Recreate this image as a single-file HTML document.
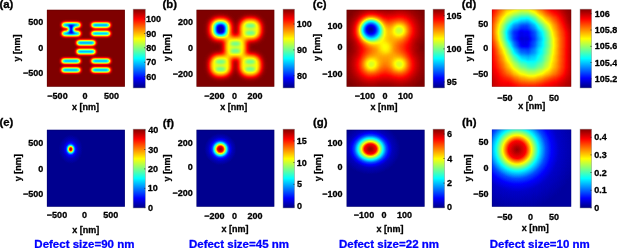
<!DOCTYPE html>
<html><head><meta charset="utf-8"><title>Defect maps</title>
<style>html,body{margin:0;padding:0;background:#fff;overflow:hidden}svg{display:block}</style>
</head><body>
<svg xmlns="http://www.w3.org/2000/svg" width="617" height="248" viewBox="0 0 617 248" font-family='"Liberation Sans", Arial, Helvetica, sans-serif' font-weight="bold">
<defs><linearGradient id="jetgrad" x1="0" y1="1" x2="0" y2="0"><stop offset="0" stop-color="#000080"/><stop offset="0.125" stop-color="#0000ff"/><stop offset="0.375" stop-color="#00ffff"/><stop offset="0.625" stop-color="#ffff00"/><stop offset="0.875" stop-color="#ff0000"/><stop offset="1" stop-color="#800000"/></linearGradient><filter id="fa0" filterUnits="userSpaceOnUse" x="31.9" y="-5.15" width="108.0" height="106.9" color-interpolation-filters="sRGB"><feGaussianBlur stdDeviation="1.45"/><feComponentTransfer>
<feFuncR type="table" tableValues="0 0 0 0 .5 1 1 1 .5"/>
<feFuncG type="table" tableValues="0 0 .5 1 1 1 .5 0 0"/>
<feFuncB type="table" tableValues=".5 1 1 1 .5 0 0 0 0"/>
</feComponentTransfer></filter><clipPath id="ca0"><rect x="46.9" y="9.85" width="78.00" height="76.90"/></clipPath><filter id="hb" x="-50%" y="-50%" width="200%" height="200%" color-interpolation-filters="sRGB"><feGaussianBlur stdDeviation="2.6"/></filter><filter id="fb0" filterUnits="userSpaceOnUse" x="181.5" y="-5.15" width="107.80000000000001" height="106.9" color-interpolation-filters="sRGB"><feGaussianBlur stdDeviation="1.5"/><feComponentTransfer>
<feFuncR type="table" tableValues="0 0 0 0 .5 1 1 1 .5"/>
<feFuncG type="table" tableValues="0 0 .5 1 1 1 .5 0 0"/>
<feFuncB type="table" tableValues=".5 1 1 1 .5 0 0 0 0"/>
</feComponentTransfer></filter><clipPath id="cb0"><rect x="196.5" y="9.85" width="77.80" height="76.90"/></clipPath><radialGradient id="ab6" gradientUnits="userSpaceOnUse" cx="399.7" cy="30.2" r="28" gradientTransform="translate(399.7 30.2) scale(1 1.0) translate(-399.7 -30.2)"><stop offset="0.0000" stop-color="#000" stop-opacity="0.430"/><stop offset="0.0714" stop-color="#000" stop-opacity="0.417"/><stop offset="0.1429" stop-color="#000" stop-opacity="0.378"/><stop offset="0.2143" stop-color="#000" stop-opacity="0.318"/><stop offset="0.3214" stop-color="#000" stop-opacity="0.224"/><stop offset="0.4286" stop-color="#000" stop-opacity="0.155"/><stop offset="0.5714" stop-color="#000" stop-opacity="0.086"/><stop offset="0.7500" stop-color="#000" stop-opacity="0.034"/><stop offset="1.0000" stop-color="#000" stop-opacity="0.000"/></radialGradient><radialGradient id="ab7" gradientUnits="userSpaceOnUse" cx="370.9" cy="64.6" r="28" gradientTransform="translate(370.9 64.6) scale(1 1.0) translate(-370.9 -64.6)"><stop offset="0.0000" stop-color="#000" stop-opacity="0.410"/><stop offset="0.0714" stop-color="#000" stop-opacity="0.398"/><stop offset="0.1429" stop-color="#000" stop-opacity="0.361"/><stop offset="0.2143" stop-color="#000" stop-opacity="0.303"/><stop offset="0.3214" stop-color="#000" stop-opacity="0.213"/><stop offset="0.4286" stop-color="#000" stop-opacity="0.148"/><stop offset="0.5714" stop-color="#000" stop-opacity="0.082"/><stop offset="0.7500" stop-color="#000" stop-opacity="0.033"/><stop offset="1.0000" stop-color="#000" stop-opacity="0.000"/></radialGradient><radialGradient id="ab8" gradientUnits="userSpaceOnUse" cx="399.7" cy="64.6" r="28" gradientTransform="translate(399.7 64.6) scale(1 1.0) translate(-399.7 -64.6)"><stop offset="0.0000" stop-color="#000" stop-opacity="0.410"/><stop offset="0.0714" stop-color="#000" stop-opacity="0.398"/><stop offset="0.1429" stop-color="#000" stop-opacity="0.361"/><stop offset="0.2143" stop-color="#000" stop-opacity="0.303"/><stop offset="0.3214" stop-color="#000" stop-opacity="0.213"/><stop offset="0.4286" stop-color="#000" stop-opacity="0.148"/><stop offset="0.5714" stop-color="#000" stop-opacity="0.082"/><stop offset="0.7500" stop-color="#000" stop-opacity="0.033"/><stop offset="1.0000" stop-color="#000" stop-opacity="0.000"/></radialGradient><radialGradient id="ab9" gradientUnits="userSpaceOnUse" cx="385.4" cy="47.8" r="28" gradientTransform="translate(385.4 47.8) scale(1 1.0) translate(-385.4 -47.8)"><stop offset="0.0000" stop-color="#000" stop-opacity="0.300"/><stop offset="0.0714" stop-color="#000" stop-opacity="0.291"/><stop offset="0.1429" stop-color="#000" stop-opacity="0.264"/><stop offset="0.2143" stop-color="#000" stop-opacity="0.222"/><stop offset="0.3214" stop-color="#000" stop-opacity="0.156"/><stop offset="0.4286" stop-color="#000" stop-opacity="0.108"/><stop offset="0.5714" stop-color="#000" stop-opacity="0.060"/><stop offset="0.7500" stop-color="#000" stop-opacity="0.024"/><stop offset="1.0000" stop-color="#000" stop-opacity="0.000"/></radialGradient><radialGradient id="ab10" gradientUnits="userSpaceOnUse" cx="372.4" cy="31.6" r="28" fx="370.5" fy="29.2" gradientTransform="translate(372.4 31.6) scale(1 1.0) translate(-372.4 -31.6)"><stop offset="0.0000" stop-color="#000" stop-opacity="1.000"/><stop offset="0.1000" stop-color="#000" stop-opacity="0.940"/><stop offset="0.1643" stop-color="#000" stop-opacity="0.880"/><stop offset="0.2179" stop-color="#000" stop-opacity="0.800"/><stop offset="0.2607" stop-color="#000" stop-opacity="0.700"/><stop offset="0.3107" stop-color="#000" stop-opacity="0.620"/><stop offset="0.3464" stop-color="#000" stop-opacity="0.550"/><stop offset="0.3821" stop-color="#000" stop-opacity="0.450"/><stop offset="0.4250" stop-color="#000" stop-opacity="0.355"/><stop offset="0.4893" stop-color="#000" stop-opacity="0.240"/><stop offset="0.5893" stop-color="#000" stop-opacity="0.130"/><stop offset="0.7143" stop-color="#000" stop-opacity="0.055"/><stop offset="0.8571" stop-color="#000" stop-opacity="0.020"/><stop offset="1.0000" stop-color="#000" stop-opacity="0.000"/></radialGradient><filter id="fc0" filterUnits="userSpaceOnUse" x="331.6" y="-5.15" width="108.0" height="106.9" color-interpolation-filters="sRGB"><feGaussianBlur stdDeviation="0.8"/><feComponentTransfer>
<feFuncR type="table" tableValues="0 0 0 0 .5 1 1 1 .5"/>
<feFuncG type="table" tableValues="0 0 .5 1 1 1 .5 0 0"/>
<feFuncB type="table" tableValues=".5 1 1 1 .5 0 0 0 0"/>
</feComponentTransfer></filter><clipPath id="cc0"><rect x="346.6" y="9.85" width="78.00" height="76.90"/></clipPath><filter id="fd0" filterUnits="userSpaceOnUse" x="476.9" y="-5.4" width="109.30000000000007" height="107.15" color-interpolation-filters="sRGB"><feGaussianBlur stdDeviation="2.2"/><feComponentTransfer>
<feFuncR type="table" tableValues="0 0 0 0 .5 1 1 1 .5"/>
<feFuncG type="table" tableValues="0 0 .5 1 1 1 .5 0 0"/>
<feFuncB type="table" tableValues=".5 1 1 1 .5 0 0 0 0"/>
</feComponentTransfer></filter><clipPath id="cd0"><rect x="491.9" y="9.6" width="79.30" height="77.15"/></clipPath><radialGradient id="rg15" gradientUnits="userSpaceOnUse" cx="70.7" cy="149.2" r="12" gradientTransform="translate(70.7 149.2) scale(1 1.2167) translate(-70.7 -149.2)"><stop offset="0.0000" stop-color="#f5f5f5"/><stop offset="0.0417" stop-color="#ededed"/><stop offset="0.0917" stop-color="#dfdfdf"/><stop offset="0.1833" stop-color="#9f9f9f"/><stop offset="0.2625" stop-color="#606060"/><stop offset="0.3500" stop-color="#333333"/><stop offset="0.4333" stop-color="#202020"/><stop offset="0.6250" stop-color="#0f0f0f"/><stop offset="1.0000" stop-color="#040404"/></radialGradient><filter id="fa120" filterUnits="userSpaceOnUse" x="31.9" y="114.85" width="108.0" height="106.9" color-interpolation-filters="sRGB"><feComponentTransfer>
<feFuncR type="table" tableValues="0 0 0 0 .5 1 1 1 .5"/>
<feFuncG type="table" tableValues="0 0 .5 1 1 1 .5 0 0"/>
<feFuncB type="table" tableValues=".5 1 1 1 .5 0 0 0 0"/>
</feComponentTransfer></filter><clipPath id="ca120"><rect x="46.9" y="129.85" width="78.00" height="76.90"/></clipPath><radialGradient id="rg18" gradientUnits="userSpaceOnUse" cx="220.4" cy="149.1" r="16" gradientTransform="translate(220.4 149.1) scale(1 1.0000) translate(-220.4 -149.1)"><stop offset="0.0000" stop-color="#fafafa"/><stop offset="0.0813" stop-color="#f2f2f2"/><stop offset="0.1812" stop-color="#dfdfdf"/><stop offset="0.2812" stop-color="#9f9f9f"/><stop offset="0.4000" stop-color="#606060"/><stop offset="0.5000" stop-color="#333333"/><stop offset="0.5938" stop-color="#202020"/><stop offset="0.7500" stop-color="#0f0f0f"/><stop offset="1.0000" stop-color="#040404"/></radialGradient><filter id="fb120" filterUnits="userSpaceOnUse" x="181.5" y="114.85" width="107.80000000000001" height="106.9" color-interpolation-filters="sRGB"><feComponentTransfer>
<feFuncR type="table" tableValues="0 0 0 0 .5 1 1 1 .5"/>
<feFuncG type="table" tableValues="0 0 .5 1 1 1 .5 0 0"/>
<feFuncB type="table" tableValues=".5 1 1 1 .5 0 0 0 0"/>
</feComponentTransfer></filter><clipPath id="cb120"><rect x="196.5" y="129.85" width="77.80" height="76.90"/></clipPath><radialGradient id="rg21" gradientUnits="userSpaceOnUse" cx="370.4" cy="149.0" r="30" gradientTransform="translate(370.4 149.0) scale(1 0.8500) translate(-370.4 -149.0)"><stop offset="0.0000" stop-color="#fafafa"/><stop offset="0.0833" stop-color="#f2f2f2"/><stop offset="0.2000" stop-color="#dfdfdf"/><stop offset="0.2933" stop-color="#9f9f9f"/><stop offset="0.4200" stop-color="#606060"/><stop offset="0.5333" stop-color="#333333"/><stop offset="0.6200" stop-color="#202020"/><stop offset="0.7333" stop-color="#0f0f0f"/><stop offset="1.0000" stop-color="#040404"/></radialGradient><filter id="fc120" filterUnits="userSpaceOnUse" x="331.6" y="114.85" width="108.0" height="106.9" color-interpolation-filters="sRGB"><feComponentTransfer>
<feFuncR type="table" tableValues="0 0 0 0 .5 1 1 1 .5"/>
<feFuncG type="table" tableValues="0 0 .5 1 1 1 .5 0 0"/>
<feFuncB type="table" tableValues=".5 1 1 1 .5 0 0 0 0"/>
</feComponentTransfer></filter><clipPath id="cc120"><rect x="346.6" y="129.85" width="78.00" height="76.90"/></clipPath><radialGradient id="rg24" gradientUnits="userSpaceOnUse" cx="517.1" cy="149.7" r="60" gradientTransform="translate(517.1 149.7) scale(1 1.0000) translate(-517.1 -149.7)"><stop offset="0.0000" stop-color="#fafafa"/><stop offset="0.0500" stop-color="#f2f2f2"/><stop offset="0.1467" stop-color="#dfdfdf"/><stop offset="0.2417" stop-color="#9f9f9f"/><stop offset="0.3550" stop-color="#606060"/><stop offset="0.4800" stop-color="#333333"/><stop offset="0.5750" stop-color="#202020"/><stop offset="0.7000" stop-color="#121212"/><stop offset="1.0000" stop-color="#080808"/></radialGradient><filter id="fd120" filterUnits="userSpaceOnUse" x="476.9" y="114.6" width="109.30000000000007" height="107.15" color-interpolation-filters="sRGB"><feComponentTransfer>
<feFuncR type="table" tableValues="0 0 0 0 .5 1 1 1 .5"/>
<feFuncG type="table" tableValues="0 0 .5 1 1 1 .5 0 0"/>
<feFuncB type="table" tableValues=".5 1 1 1 .5 0 0 0 0"/>
</feComponentTransfer></filter><clipPath id="cd120"><rect x="491.9" y="129.6" width="79.30" height="77.15"/></clipPath></defs>
<g clip-path="url(#ca0)"><g filter="url(#fa0)"><rect x="34.9" y="-2.1500000000000004" width="102.00" height="100.90" fill="#fff"/><rect x="91.40" y="23.00" width="18.80" height="4.20" rx="2.10" fill="#2e2e2e" opacity="1"/><rect x="91.40" y="31.40" width="18.80" height="4.20" rx="2.10" fill="#2e2e2e" opacity="1"/><rect x="76.60" y="40.70" width="18.80" height="4.20" rx="2.10" fill="#2e2e2e" opacity="1"/><rect x="76.60" y="49.60" width="18.80" height="4.20" rx="2.10" fill="#2e2e2e" opacity="1"/><rect x="61.50" y="58.90" width="18.80" height="4.20" rx="2.10" fill="#2e2e2e" opacity="1"/><rect x="61.50" y="67.90" width="18.80" height="4.20" rx="2.10" fill="#2e2e2e" opacity="1"/><rect x="91.40" y="58.90" width="18.80" height="4.20" rx="2.10" fill="#2e2e2e" opacity="1"/><rect x="91.40" y="67.90" width="18.80" height="4.20" rx="2.10" fill="#2e2e2e" opacity="1"/><rect x="61.90" y="22.70" width="18.60" height="4.60" rx="2.30" fill="#3d3d3d" opacity="1"/><rect x="61.90" y="31.20" width="18.60" height="4.60" rx="2.30" fill="#3d3d3d" opacity="1"/><path d="M65.5 24.0 L76.9 24.0 C72.1 26, 72.1 32.5, 76.9 34.5 L65.5 34.5 C70.3 32.5, 70.3 26, 65.5 24.0 Z" fill="#1a1a1a"/><ellipse cx="71.2" cy="29.3" rx="1.6" ry="3.6" fill="#000000"/></g></g><rect x="47.15" y="10.10" width="77.50" height="76.40" fill="none" stroke="#000" stroke-opacity="0.28" stroke-width="0.5"/><g clip-path="url(#cb0)"><g filter="url(#fb0)"><rect x="184.5" y="-2.1500000000000004" width="101.80" height="100.90" fill="#fff"/><g filter="url(#hb)"><rect x="210.1" y="18.6" width="21" height="21" rx="8" fill="#000" opacity="0.42"/><rect x="239.9" y="18.8" width="21" height="21" rx="8" fill="#000" opacity="0.42"/><rect x="224.9" y="36.8" width="21" height="21" rx="8" fill="#000" opacity="0.42"/><rect x="210.1" y="54.900000000000006" width="21" height="21" rx="8" fill="#000" opacity="0.42"/><rect x="239.7" y="54.900000000000006" width="21" height="21" rx="8" fill="#000" opacity="0.42"/></g><rect x="244.20000000000002" y="22.5" width="12.4" height="13.6" rx="3" fill="#9e9e9e"/><ellipse cx="250.4" cy="25.5" rx="7.3" ry="4.0" fill="#9e9e9e"/><ellipse cx="250.4" cy="33.1" rx="7.3" ry="4.0" fill="#9e9e9e"/><ellipse cx="250.4" cy="25.7" rx="5.0" ry="2.3" fill="#787878"/><ellipse cx="250.4" cy="32.9" rx="5.0" ry="2.3" fill="#787878"/><rect x="229.20000000000002" y="40.5" width="12.4" height="13.6" rx="3" fill="#9e9e9e"/><ellipse cx="235.4" cy="43.5" rx="7.3" ry="4.0" fill="#9e9e9e"/><ellipse cx="235.4" cy="51.099999999999994" rx="7.3" ry="4.0" fill="#9e9e9e"/><ellipse cx="235.4" cy="43.699999999999996" rx="5.0" ry="2.3" fill="#787878"/><ellipse cx="235.4" cy="50.9" rx="5.0" ry="2.3" fill="#787878"/><rect x="214.4" y="58.60000000000001" width="12.4" height="13.6" rx="3" fill="#9e9e9e"/><ellipse cx="220.6" cy="61.60000000000001" rx="7.3" ry="4.0" fill="#9e9e9e"/><ellipse cx="220.6" cy="69.2" rx="7.3" ry="4.0" fill="#9e9e9e"/><ellipse cx="220.6" cy="61.800000000000004" rx="5.0" ry="2.3" fill="#787878"/><ellipse cx="220.6" cy="69.0" rx="5.0" ry="2.3" fill="#787878"/><rect x="244.0" y="58.60000000000001" width="12.4" height="13.6" rx="3" fill="#9e9e9e"/><ellipse cx="250.2" cy="61.60000000000001" rx="7.3" ry="4.0" fill="#9e9e9e"/><ellipse cx="250.2" cy="69.2" rx="7.3" ry="4.0" fill="#9e9e9e"/><ellipse cx="250.2" cy="61.800000000000004" rx="5.0" ry="2.3" fill="#787878"/><ellipse cx="250.2" cy="69.0" rx="5.0" ry="2.3" fill="#787878"/><rect x="213.4" y="21.5" width="14.4" height="15.2" rx="5.5" fill="#616161"/><rect x="216.29999999999998" y="24.200000000000003" width="8.6" height="9.8" rx="3.5" fill="#080808"/></g></g><rect x="196.75" y="10.10" width="77.30" height="76.40" fill="none" stroke="#000" stroke-opacity="0.28" stroke-width="0.5"/><g clip-path="url(#cc0)"><g filter="url(#fc0)"><rect x="334.6" y="-2.1500000000000004" width="102.00" height="100.90" fill="#fff"/><ellipse cx="399.7" cy="30.2" rx="28" ry="28.000" fill="url(#ab6)"/><ellipse cx="370.9" cy="64.6" rx="28" ry="28.000" fill="url(#ab7)"/><ellipse cx="399.7" cy="64.6" rx="28" ry="28.000" fill="url(#ab8)"/><ellipse cx="385.4" cy="47.8" rx="28" ry="28.000" fill="url(#ab9)"/><ellipse cx="372.4" cy="31.6" rx="28" ry="28.000" fill="url(#ab10)"/></g></g><rect x="346.85" y="10.10" width="77.50" height="76.40" fill="none" stroke="#000" stroke-opacity="0.28" stroke-width="0.5"/><g clip-path="url(#cd0)"><g filter="url(#fd0)"><rect x="479.9" y="-2.4000000000000004" width="103.30" height="101.15" fill="#fff"/><rect x="486.0" y="4.0" width="3.55" height="3.55" fill="#e8e8e8"/><rect x="489.5" y="4.0" width="3.55" height="3.55" fill="#e5e5e5"/><rect x="493.0" y="4.0" width="3.55" height="3.55" fill="#dbdbdb"/><rect x="496.5" y="4.0" width="3.55" height="3.55" fill="#cfcfcf"/><rect x="500.0" y="4.0" width="3.55" height="3.55" fill="#c2c2c2"/><rect x="503.5" y="4.0" width="3.55" height="3.55" fill="#b4b4b4"/><rect x="507.0" y="4.0" width="3.55" height="3.55" fill="#ababab"/><rect x="510.5" y="4.0" width="3.55" height="3.55" fill="#aaaaaa"/><rect x="514.0" y="4.0" width="3.55" height="3.55" fill="#a4a4a4"/><rect x="517.5" y="4.0" width="3.55" height="3.55" fill="#9d9d9d"/><rect x="521.0" y="4.0" width="3.55" height="3.55" fill="#9c9c9c"/><rect x="524.5" y="4.0" width="3.55" height="3.55" fill="#9e9e9e"/><rect x="528.0" y="4.0" width="3.55" height="3.55" fill="#a3a3a3"/><rect x="531.5" y="4.0" width="3.55" height="3.55" fill="#ababab"/><rect x="535.0" y="4.0" width="3.55" height="3.55" fill="#b7b7b7"/><rect x="538.5" y="4.0" width="3.55" height="3.55" fill="#c3c3c3"/><rect x="542.0" y="4.0" width="3.55" height="3.55" fill="#cecece"/><rect x="545.5" y="4.0" width="3.55" height="3.55" fill="#dadada"/><rect x="549.0" y="4.0" width="3.55" height="3.55" fill="#e3e3e3"/><rect x="552.5" y="4.0" width="3.55" height="3.55" fill="#e8e8e8"/><rect x="556.0" y="4.0" width="3.55" height="3.55" fill="#ececec"/><rect x="559.5" y="4.0" width="3.55" height="3.55" fill="#f2f2f2"/><rect x="563.0" y="4.0" width="3.55" height="3.55" fill="#f8f8f8"/><rect x="566.5" y="4.0" width="3.55" height="3.55" fill="#fcfcfc"/><rect x="570.0" y="4.0" width="7.05" height="3.55" fill="#ffffff"/><rect x="486.0" y="7.5" width="3.55" height="3.55" fill="#e7e7e7"/><rect x="489.5" y="7.5" width="3.55" height="3.55" fill="#e4e4e4"/><rect x="493.0" y="7.5" width="3.55" height="3.55" fill="#dbdbdb"/><rect x="496.5" y="7.5" width="3.55" height="3.55" fill="#cecece"/><rect x="500.0" y="7.5" width="3.55" height="3.55" fill="#c1c1c1"/><rect x="503.5" y="7.5" width="3.55" height="3.55" fill="#b3b3b3"/><rect x="507.0" y="7.5" width="3.55" height="3.55" fill="#aaaaaa"/><rect x="510.5" y="7.5" width="3.55" height="3.55" fill="#a8a8a8"/><rect x="514.0" y="7.5" width="3.55" height="3.55" fill="#a2a2a2"/><rect x="517.5" y="7.5" width="3.55" height="3.55" fill="#9b9b9b"/><rect x="521.0" y="7.5" width="3.55" height="3.55" fill="#9a9a9a"/><rect x="524.5" y="7.5" width="3.55" height="3.55" fill="#9c9c9c"/><rect x="528.0" y="7.5" width="3.55" height="3.55" fill="#a2a2a2"/><rect x="531.5" y="7.5" width="3.55" height="3.55" fill="#aaaaaa"/><rect x="535.0" y="7.5" width="3.55" height="3.55" fill="#b6b6b6"/><rect x="538.5" y="7.5" width="3.55" height="3.55" fill="#c1c1c1"/><rect x="542.0" y="7.5" width="3.55" height="3.55" fill="#cdcdcd"/><rect x="545.5" y="7.5" width="3.55" height="3.55" fill="#d9d9d9"/><rect x="549.0" y="7.5" width="3.55" height="3.55" fill="#e2e2e2"/><rect x="552.5" y="7.5" width="3.55" height="3.55" fill="#e7e7e7"/><rect x="556.0" y="7.5" width="3.55" height="3.55" fill="#ebebeb"/><rect x="559.5" y="7.5" width="3.55" height="3.55" fill="#f1f1f1"/><rect x="563.0" y="7.5" width="3.55" height="3.55" fill="#f8f8f8"/><rect x="566.5" y="7.5" width="3.55" height="3.55" fill="#fcfcfc"/><rect x="570.0" y="7.5" width="7.05" height="3.55" fill="#ffffff"/><rect x="486.0" y="11.0" width="3.55" height="3.55" fill="#e3e3e3"/><rect x="489.5" y="11.0" width="3.55" height="3.55" fill="#dfdfdf"/><rect x="493.0" y="11.0" width="3.55" height="3.55" fill="#d3d3d3"/><rect x="496.5" y="11.0" width="3.55" height="3.55" fill="#c5c5c5"/><rect x="500.0" y="11.0" width="3.55" height="3.55" fill="#b5b5b5"/><rect x="503.5" y="11.0" width="3.55" height="3.55" fill="#a5a5a5"/><rect x="507.0" y="11.0" width="3.55" height="3.55" fill="#999999"/><rect x="510.5" y="11.0" width="3.55" height="3.55" fill="#959595"/><rect x="514.0" y="11.0" width="3.55" height="3.55" fill="#8d8d8d"/><rect x="517.5" y="11.0" width="3.55" height="3.55" fill="#848484"/><rect x="521.0" y="11.0" width="3.55" height="3.55" fill="#818181"/><rect x="524.5" y="11.0" width="3.55" height="3.55" fill="#828282"/><rect x="528.0" y="11.0" width="3.55" height="3.55" fill="#888888"/><rect x="531.5" y="11.0" width="3.55" height="3.55" fill="#929292"/><rect x="535.0" y="11.0" width="3.55" height="3.55" fill="#a1a1a1"/><rect x="538.5" y="11.0" width="3.55" height="3.55" fill="#b0b0b0"/><rect x="542.0" y="11.0" width="3.55" height="3.55" fill="#bdbdbd"/><rect x="545.5" y="11.0" width="3.55" height="3.55" fill="#cacaca"/><rect x="549.0" y="11.0" width="3.55" height="3.55" fill="#d6d6d6"/><rect x="552.5" y="11.0" width="3.55" height="3.55" fill="#dcdcdc"/><rect x="556.0" y="11.0" width="3.55" height="3.55" fill="#e2e2e2"/><rect x="559.5" y="11.0" width="3.55" height="3.55" fill="#eaeaea"/><rect x="563.0" y="11.0" width="3.55" height="3.55" fill="#f3f3f3"/><rect x="566.5" y="11.0" width="3.55" height="3.55" fill="#f9f9f9"/><rect x="570.0" y="11.0" width="3.55" height="3.55" fill="#fdfdfd"/><rect x="573.5" y="11.0" width="3.55" height="3.55" fill="#fefefe"/><rect x="486.0" y="14.5" width="3.55" height="3.55" fill="#e0e0e0"/><rect x="489.5" y="14.5" width="3.55" height="3.55" fill="#dbdbdb"/><rect x="493.0" y="14.5" width="3.55" height="3.55" fill="#cccccc"/><rect x="496.5" y="14.5" width="3.55" height="3.55" fill="#bbbbbb"/><rect x="500.0" y="14.5" width="3.55" height="3.55" fill="#a9a9a9"/><rect x="503.5" y="14.5" width="3.55" height="3.55" fill="#989898"/><rect x="507.0" y="14.5" width="3.55" height="3.55" fill="#8a8a8a"/><rect x="510.5" y="14.5" width="3.55" height="3.55" fill="#7e7e7e"/><rect x="514.0" y="14.5" width="3.55" height="3.55" fill="#757575"/><rect x="517.5" y="14.5" width="3.55" height="3.55" fill="#6d6d6d"/><rect x="521.0" y="14.5" width="3.55" height="3.55" fill="#676767"/><rect x="524.5" y="14.5" width="3.55" height="3.55" fill="#656565"/><rect x="528.0" y="14.5" width="3.55" height="3.55" fill="#6b6b6b"/><rect x="531.5" y="14.5" width="3.55" height="3.55" fill="#787878"/><rect x="535.0" y="14.5" width="3.55" height="3.55" fill="#8a8a8a"/><rect x="538.5" y="14.5" width="3.55" height="3.55" fill="#9c9c9c"/><rect x="542.0" y="14.5" width="3.55" height="3.55" fill="#acacac"/><rect x="545.5" y="14.5" width="3.55" height="3.55" fill="#bababa"/><rect x="549.0" y="14.5" width="3.55" height="3.55" fill="#c6c6c6"/><rect x="552.5" y="14.5" width="3.55" height="3.55" fill="#d0d0d0"/><rect x="556.0" y="14.5" width="3.55" height="3.55" fill="#d9d9d9"/><rect x="559.5" y="14.5" width="3.55" height="3.55" fill="#e3e3e3"/><rect x="563.0" y="14.5" width="3.55" height="3.55" fill="#eeeeee"/><rect x="566.5" y="14.5" width="3.55" height="3.55" fill="#f7f7f7"/><rect x="570.0" y="14.5" width="7.05" height="3.55" fill="#fdfdfd"/><rect x="486.0" y="18.0" width="3.55" height="3.55" fill="#dddddd"/><rect x="489.5" y="18.0" width="3.55" height="3.55" fill="#d7d7d7"/><rect x="493.0" y="18.0" width="3.55" height="3.55" fill="#c5c5c5"/><rect x="496.5" y="18.0" width="3.55" height="3.55" fill="#b1b1b1"/><rect x="500.0" y="18.0" width="3.55" height="3.55" fill="#9d9d9d"/><rect x="503.5" y="18.0" width="3.55" height="3.55" fill="#8a8a8a"/><rect x="507.0" y="18.0" width="3.55" height="3.55" fill="#787878"/><rect x="510.5" y="18.0" width="3.55" height="3.55" fill="#686868"/><rect x="514.0" y="18.0" width="3.55" height="3.55" fill="#5c5c5c"/><rect x="517.5" y="18.0" width="3.55" height="3.55" fill="#555555"/><rect x="521.0" y="18.0" width="3.55" height="3.55" fill="#4e4e4e"/><rect x="524.5" y="18.0" width="3.55" height="3.55" fill="#494949"/><rect x="528.0" y="18.0" width="3.55" height="3.55" fill="#4f4f4f"/><rect x="531.5" y="18.0" width="3.55" height="3.55" fill="#5f5f5f"/><rect x="535.0" y="18.0" width="3.55" height="3.55" fill="#747474"/><rect x="538.5" y="18.0" width="3.55" height="3.55" fill="#898989"/><rect x="542.0" y="18.0" width="3.55" height="3.55" fill="#9a9a9a"/><rect x="545.5" y="18.0" width="3.55" height="3.55" fill="#a8a8a8"/><rect x="549.0" y="18.0" width="3.55" height="3.55" fill="#b6b6b6"/><rect x="552.5" y="18.0" width="3.55" height="3.55" fill="#c4c4c4"/><rect x="556.0" y="18.0" width="3.55" height="3.55" fill="#d0d0d0"/><rect x="559.5" y="18.0" width="3.55" height="3.55" fill="#dcdcdc"/><rect x="563.0" y="18.0" width="3.55" height="3.55" fill="#eaeaea"/><rect x="566.5" y="18.0" width="3.55" height="3.55" fill="#f6f6f6"/><rect x="570.0" y="18.0" width="7.05" height="3.55" fill="#fcfcfc"/><rect x="486.0" y="21.5" width="3.55" height="3.55" fill="#dbdbdb"/><rect x="489.5" y="21.5" width="3.55" height="3.55" fill="#d4d4d4"/><rect x="493.0" y="21.5" width="3.55" height="3.55" fill="#bfbfbf"/><rect x="496.5" y="21.5" width="3.55" height="3.55" fill="#a8a8a8"/><rect x="500.0" y="21.5" width="3.55" height="3.55" fill="#929292"/><rect x="503.5" y="21.5" width="3.55" height="3.55" fill="#7b7b7b"/><rect x="507.0" y="21.5" width="3.55" height="3.55" fill="#656565"/><rect x="510.5" y="21.5" width="3.55" height="3.55" fill="#525252"/><rect x="514.0" y="21.5" width="3.55" height="3.55" fill="#454545"/><rect x="517.5" y="21.5" width="3.55" height="3.55" fill="#3c3c3c"/><rect x="521.0" y="21.5" width="3.55" height="3.55" fill="#363636"/><rect x="524.5" y="21.5" width="3.55" height="3.55" fill="#333333"/><rect x="528.0" y="21.5" width="3.55" height="3.55" fill="#393939"/><rect x="531.5" y="21.5" width="3.55" height="3.55" fill="#494949"/><rect x="535.0" y="21.5" width="3.55" height="3.55" fill="#5e5e5e"/><rect x="538.5" y="21.5" width="3.55" height="3.55" fill="#737373"/><rect x="542.0" y="21.5" width="3.55" height="3.55" fill="#878787"/><rect x="545.5" y="21.5" width="3.55" height="3.55" fill="#989898"/><rect x="549.0" y="21.5" width="3.55" height="3.55" fill="#a9a9a9"/><rect x="552.5" y="21.5" width="3.55" height="3.55" fill="#b9b9b9"/><rect x="556.0" y="21.5" width="3.55" height="3.55" fill="#c8c8c8"/><rect x="559.5" y="21.5" width="3.55" height="3.55" fill="#d6d6d6"/><rect x="563.0" y="21.5" width="3.55" height="3.55" fill="#e5e5e5"/><rect x="566.5" y="21.5" width="3.55" height="3.55" fill="#f1f1f1"/><rect x="570.0" y="21.5" width="7.05" height="3.55" fill="#fafafa"/><rect x="486.0" y="25.0" width="3.55" height="3.55" fill="#d9d9d9"/><rect x="489.5" y="25.0" width="3.55" height="3.55" fill="#d1d1d1"/><rect x="493.0" y="25.0" width="3.55" height="3.55" fill="#bababa"/><rect x="496.5" y="25.0" width="3.55" height="3.55" fill="#a0a0a0"/><rect x="500.0" y="25.0" width="3.55" height="3.55" fill="#878787"/><rect x="503.5" y="25.0" width="3.55" height="3.55" fill="#6d6d6d"/><rect x="507.0" y="25.0" width="3.55" height="3.55" fill="#535353"/><rect x="510.5" y="25.0" width="3.55" height="3.55" fill="#3e3e3e"/><rect x="514.0" y="25.0" width="3.55" height="3.55" fill="#303030"/><rect x="517.5" y="25.0" width="3.55" height="3.55" fill="#272727"/><rect x="521.0" y="25.0" width="7.05" height="3.55" fill="#222222"/><rect x="528.0" y="25.0" width="3.55" height="3.55" fill="#292929"/><rect x="531.5" y="25.0" width="3.55" height="3.55" fill="#373737"/><rect x="535.0" y="25.0" width="3.55" height="3.55" fill="#4b4b4b"/><rect x="538.5" y="25.0" width="3.55" height="3.55" fill="#606060"/><rect x="542.0" y="25.0" width="3.55" height="3.55" fill="#747474"/><rect x="545.5" y="25.0" width="3.55" height="3.55" fill="#898989"/><rect x="549.0" y="25.0" width="3.55" height="3.55" fill="#9d9d9d"/><rect x="552.5" y="25.0" width="3.55" height="3.55" fill="#b1b1b1"/><rect x="556.0" y="25.0" width="3.55" height="3.55" fill="#c1c1c1"/><rect x="559.5" y="25.0" width="3.55" height="3.55" fill="#d1d1d1"/><rect x="563.0" y="25.0" width="3.55" height="3.55" fill="#dfdfdf"/><rect x="566.5" y="25.0" width="3.55" height="3.55" fill="#ececec"/><rect x="570.0" y="25.0" width="7.05" height="3.55" fill="#f7f7f7"/><rect x="486.0" y="28.5" width="3.55" height="3.55" fill="#d9d9d9"/><rect x="489.5" y="28.5" width="3.55" height="3.55" fill="#d1d1d1"/><rect x="493.0" y="28.5" width="3.55" height="3.55" fill="#b6b6b6"/><rect x="496.5" y="28.5" width="3.55" height="3.55" fill="#9b9b9b"/><rect x="500.0" y="28.5" width="3.55" height="3.55" fill="#828282"/><rect x="503.5" y="28.5" width="3.55" height="3.55" fill="#636363"/><rect x="507.0" y="28.5" width="3.55" height="3.55" fill="#464646"/><rect x="510.5" y="28.5" width="3.55" height="3.55" fill="#2d2d2d"/><rect x="514.0" y="28.5" width="3.55" height="3.55" fill="#202020"/><rect x="517.5" y="28.5" width="3.55" height="3.55" fill="#171717"/><rect x="521.0" y="28.5" width="3.55" height="3.55" fill="#141414"/><rect x="524.5" y="28.5" width="3.55" height="3.55" fill="#151515"/><rect x="528.0" y="28.5" width="3.55" height="3.55" fill="#1c1c1c"/><rect x="531.5" y="28.5" width="3.55" height="3.55" fill="#282828"/><rect x="535.0" y="28.5" width="3.55" height="3.55" fill="#3c3c3c"/><rect x="538.5" y="28.5" width="3.55" height="3.55" fill="#525252"/><rect x="542.0" y="28.5" width="3.55" height="3.55" fill="#656565"/><rect x="545.5" y="28.5" width="3.55" height="3.55" fill="#7b7b7b"/><rect x="549.0" y="28.5" width="3.55" height="3.55" fill="#949494"/><rect x="552.5" y="28.5" width="3.55" height="3.55" fill="#aaaaaa"/><rect x="556.0" y="28.5" width="3.55" height="3.55" fill="#bcbcbc"/><rect x="559.5" y="28.5" width="3.55" height="3.55" fill="#cbcbcb"/><rect x="563.0" y="28.5" width="3.55" height="3.55" fill="#d9d9d9"/><rect x="566.5" y="28.5" width="3.55" height="3.55" fill="#e7e7e7"/><rect x="570.0" y="28.5" width="3.55" height="3.55" fill="#f4f4f4"/><rect x="573.5" y="28.5" width="3.55" height="3.55" fill="#f5f5f5"/><rect x="486.0" y="32.0" width="3.55" height="3.55" fill="#dadada"/><rect x="489.5" y="32.0" width="3.55" height="3.55" fill="#d2d2d2"/><rect x="493.0" y="32.0" width="3.55" height="3.55" fill="#b6b6b6"/><rect x="496.5" y="32.0" width="3.55" height="3.55" fill="#999999"/><rect x="500.0" y="32.0" width="3.55" height="3.55" fill="#818181"/><rect x="503.5" y="32.0" width="3.55" height="3.55" fill="#5f5f5f"/><rect x="507.0" y="32.0" width="3.55" height="3.55" fill="#404040"/><rect x="510.5" y="32.0" width="3.55" height="3.55" fill="#252525"/><rect x="514.0" y="32.0" width="3.55" height="3.55" fill="#171717"/><rect x="517.5" y="32.0" width="3.55" height="3.55" fill="#0e0e0e"/><rect x="521.0" y="32.0" width="3.55" height="3.55" fill="#0b0b0b"/><rect x="524.5" y="32.0" width="3.55" height="3.55" fill="#0c0c0c"/><rect x="528.0" y="32.0" width="3.55" height="3.55" fill="#131313"/><rect x="531.5" y="32.0" width="3.55" height="3.55" fill="#1f1f1f"/><rect x="535.0" y="32.0" width="3.55" height="3.55" fill="#323232"/><rect x="538.5" y="32.0" width="3.55" height="3.55" fill="#494949"/><rect x="542.0" y="32.0" width="3.55" height="3.55" fill="#5b5b5b"/><rect x="545.5" y="32.0" width="3.55" height="3.55" fill="#717171"/><rect x="549.0" y="32.0" width="3.55" height="3.55" fill="#8e8e8e"/><rect x="552.5" y="32.0" width="3.55" height="3.55" fill="#a4a4a4"/><rect x="556.0" y="32.0" width="3.55" height="3.55" fill="#b8b8b8"/><rect x="559.5" y="32.0" width="3.55" height="3.55" fill="#c7c7c7"/><rect x="563.0" y="32.0" width="3.55" height="3.55" fill="#d5d5d5"/><rect x="566.5" y="32.0" width="3.55" height="3.55" fill="#e4e4e4"/><rect x="570.0" y="32.0" width="3.55" height="3.55" fill="#f2f2f2"/><rect x="573.5" y="32.0" width="3.55" height="3.55" fill="#f3f3f3"/><rect x="486.0" y="35.5" width="3.55" height="3.55" fill="#dcdcdc"/><rect x="489.5" y="35.5" width="3.55" height="3.55" fill="#d4d4d4"/><rect x="493.0" y="35.5" width="3.55" height="3.55" fill="#bababa"/><rect x="496.5" y="35.5" width="3.55" height="3.55" fill="#9e9e9e"/><rect x="500.0" y="35.5" width="3.55" height="3.55" fill="#838383"/><rect x="503.5" y="35.5" width="3.55" height="3.55" fill="#646464"/><rect x="507.0" y="35.5" width="3.55" height="3.55" fill="#444444"/><rect x="510.5" y="35.5" width="3.55" height="3.55" fill="#292929"/><rect x="514.0" y="35.5" width="3.55" height="3.55" fill="#171717"/><rect x="517.5" y="35.5" width="3.55" height="3.55" fill="#0c0c0c"/><rect x="521.0" y="35.5" width="3.55" height="3.55" fill="#070707"/><rect x="524.5" y="35.5" width="3.55" height="3.55" fill="#080808"/><rect x="528.0" y="35.5" width="3.55" height="3.55" fill="#0f0f0f"/><rect x="531.5" y="35.5" width="3.55" height="3.55" fill="#1c1c1c"/><rect x="535.0" y="35.5" width="3.55" height="3.55" fill="#2f2f2f"/><rect x="538.5" y="35.5" width="3.55" height="3.55" fill="#434343"/><rect x="542.0" y="35.5" width="3.55" height="3.55" fill="#575757"/><rect x="545.5" y="35.5" width="3.55" height="3.55" fill="#6e6e6e"/><rect x="549.0" y="35.5" width="3.55" height="3.55" fill="#888888"/><rect x="552.5" y="35.5" width="3.55" height="3.55" fill="#9f9f9f"/><rect x="556.0" y="35.5" width="3.55" height="3.55" fill="#b4b4b4"/><rect x="559.5" y="35.5" width="3.55" height="3.55" fill="#c5c5c5"/><rect x="563.0" y="35.5" width="3.55" height="3.55" fill="#d4d4d4"/><rect x="566.5" y="35.5" width="3.55" height="3.55" fill="#e3e3e3"/><rect x="570.0" y="35.5" width="3.55" height="3.55" fill="#f1f1f1"/><rect x="573.5" y="35.5" width="3.55" height="3.55" fill="#f2f2f2"/><rect x="486.0" y="39.0" width="3.55" height="3.55" fill="#dfdfdf"/><rect x="489.5" y="39.0" width="3.55" height="3.55" fill="#d7d7d7"/><rect x="493.0" y="39.0" width="3.55" height="3.55" fill="#c0c0c0"/><rect x="496.5" y="39.0" width="3.55" height="3.55" fill="#a6a6a6"/><rect x="500.0" y="39.0" width="3.55" height="3.55" fill="#8a8a8a"/><rect x="503.5" y="39.0" width="3.55" height="3.55" fill="#6d6d6d"/><rect x="507.0" y="39.0" width="3.55" height="3.55" fill="#4f4f4f"/><rect x="510.5" y="39.0" width="3.55" height="3.55" fill="#333333"/><rect x="514.0" y="39.0" width="3.55" height="3.55" fill="#1d1d1d"/><rect x="517.5" y="39.0" width="3.55" height="3.55" fill="#0e0e0e"/><rect x="521.0" y="39.0" width="3.55" height="3.55" fill="#080808"/><rect x="524.5" y="39.0" width="3.55" height="3.55" fill="#090909"/><rect x="528.0" y="39.0" width="3.55" height="3.55" fill="#101010"/><rect x="531.5" y="39.0" width="3.55" height="3.55" fill="#1e1e1e"/><rect x="535.0" y="39.0" width="3.55" height="3.55" fill="#303030"/><rect x="538.5" y="39.0" width="3.55" height="3.55" fill="#444444"/><rect x="542.0" y="39.0" width="3.55" height="3.55" fill="#575757"/><rect x="545.5" y="39.0" width="3.55" height="3.55" fill="#6d6d6d"/><rect x="549.0" y="39.0" width="3.55" height="3.55" fill="#858585"/><rect x="552.5" y="39.0" width="3.55" height="3.55" fill="#9d9d9d"/><rect x="556.0" y="39.0" width="3.55" height="3.55" fill="#b2b2b2"/><rect x="559.5" y="39.0" width="3.55" height="3.55" fill="#c4c4c4"/><rect x="563.0" y="39.0" width="3.55" height="3.55" fill="#d4d4d4"/><rect x="566.5" y="39.0" width="3.55" height="3.55" fill="#e3e3e3"/><rect x="570.0" y="39.0" width="3.55" height="3.55" fill="#f1f1f1"/><rect x="573.5" y="39.0" width="3.55" height="3.55" fill="#f2f2f2"/><rect x="486.0" y="42.5" width="3.55" height="3.55" fill="#e2e2e2"/><rect x="489.5" y="42.5" width="3.55" height="3.55" fill="#dcdcdc"/><rect x="493.0" y="42.5" width="3.55" height="3.55" fill="#c8c8c8"/><rect x="496.5" y="42.5" width="3.55" height="3.55" fill="#afafaf"/><rect x="500.0" y="42.5" width="3.55" height="3.55" fill="#949494"/><rect x="503.5" y="42.5" width="3.55" height="3.55" fill="#7a7a7a"/><rect x="507.0" y="42.5" width="3.55" height="3.55" fill="#5e5e5e"/><rect x="510.5" y="42.5" width="3.55" height="3.55" fill="#414141"/><rect x="514.0" y="42.5" width="3.55" height="3.55" fill="#272727"/><rect x="517.5" y="42.5" width="3.55" height="3.55" fill="#151515"/><rect x="521.0" y="42.5" width="7.05" height="3.55" fill="#0e0e0e"/><rect x="528.0" y="42.5" width="3.55" height="3.55" fill="#141414"/><rect x="531.5" y="42.5" width="3.55" height="3.55" fill="#232323"/><rect x="535.0" y="42.5" width="3.55" height="3.55" fill="#363636"/><rect x="538.5" y="42.5" width="3.55" height="3.55" fill="#484848"/><rect x="542.0" y="42.5" width="3.55" height="3.55" fill="#595959"/><rect x="545.5" y="42.5" width="3.55" height="3.55" fill="#6d6d6d"/><rect x="549.0" y="42.5" width="3.55" height="3.55" fill="#858585"/><rect x="552.5" y="42.5" width="3.55" height="3.55" fill="#9c9c9c"/><rect x="556.0" y="42.5" width="3.55" height="3.55" fill="#b2b2b2"/><rect x="559.5" y="42.5" width="3.55" height="3.55" fill="#c4c4c4"/><rect x="563.0" y="42.5" width="3.55" height="3.55" fill="#d4d4d4"/><rect x="566.5" y="42.5" width="3.55" height="3.55" fill="#e3e3e3"/><rect x="570.0" y="42.5" width="3.55" height="3.55" fill="#f1f1f1"/><rect x="573.5" y="42.5" width="3.55" height="3.55" fill="#f2f2f2"/><rect x="486.0" y="46.0" width="3.55" height="3.55" fill="#e5e5e5"/><rect x="489.5" y="46.0" width="3.55" height="3.55" fill="#e0e0e0"/><rect x="493.0" y="46.0" width="3.55" height="3.55" fill="#cecece"/><rect x="496.5" y="46.0" width="3.55" height="3.55" fill="#b8b8b8"/><rect x="500.0" y="46.0" width="3.55" height="3.55" fill="#9d9d9d"/><rect x="503.5" y="46.0" width="3.55" height="3.55" fill="#888888"/><rect x="507.0" y="46.0" width="3.55" height="3.55" fill="#6e6e6e"/><rect x="510.5" y="46.0" width="3.55" height="3.55" fill="#505050"/><rect x="514.0" y="46.0" width="3.55" height="3.55" fill="#343434"/><rect x="517.5" y="46.0" width="3.55" height="3.55" fill="#202020"/><rect x="521.0" y="46.0" width="3.55" height="3.55" fill="#191919"/><rect x="524.5" y="46.0" width="3.55" height="3.55" fill="#181818"/><rect x="528.0" y="46.0" width="3.55" height="3.55" fill="#1c1c1c"/><rect x="531.5" y="46.0" width="3.55" height="3.55" fill="#2a2a2a"/><rect x="535.0" y="46.0" width="3.55" height="3.55" fill="#3e3e3e"/><rect x="538.5" y="46.0" width="3.55" height="3.55" fill="#4f4f4f"/><rect x="542.0" y="46.0" width="3.55" height="3.55" fill="#5d5d5d"/><rect x="545.5" y="46.0" width="3.55" height="3.55" fill="#6e6e6e"/><rect x="549.0" y="46.0" width="3.55" height="3.55" fill="#878787"/><rect x="552.5" y="46.0" width="3.55" height="3.55" fill="#9d9d9d"/><rect x="556.0" y="46.0" width="3.55" height="3.55" fill="#b3b3b3"/><rect x="559.5" y="46.0" width="3.55" height="3.55" fill="#c6c6c6"/><rect x="563.0" y="46.0" width="3.55" height="3.55" fill="#d4d4d4"/><rect x="566.5" y="46.0" width="3.55" height="3.55" fill="#e3e3e3"/><rect x="570.0" y="46.0" width="3.55" height="3.55" fill="#f2f2f2"/><rect x="573.5" y="46.0" width="3.55" height="3.55" fill="#f3f3f3"/><rect x="486.0" y="49.5" width="3.55" height="3.55" fill="#e6e6e6"/><rect x="489.5" y="49.5" width="3.55" height="3.55" fill="#e2e2e2"/><rect x="493.0" y="49.5" width="3.55" height="3.55" fill="#d2d2d2"/><rect x="496.5" y="49.5" width="3.55" height="3.55" fill="#bebebe"/><rect x="500.0" y="49.5" width="3.55" height="3.55" fill="#a7a7a7"/><rect x="503.5" y="49.5" width="3.55" height="3.55" fill="#939393"/><rect x="507.0" y="49.5" width="3.55" height="3.55" fill="#7a7a7a"/><rect x="510.5" y="49.5" width="3.55" height="3.55" fill="#5e5e5e"/><rect x="514.0" y="49.5" width="3.55" height="3.55" fill="#444444"/><rect x="517.5" y="49.5" width="3.55" height="3.55" fill="#313131"/><rect x="521.0" y="49.5" width="3.55" height="3.55" fill="#282828"/><rect x="524.5" y="49.5" width="3.55" height="3.55" fill="#252525"/><rect x="528.0" y="49.5" width="3.55" height="3.55" fill="#282828"/><rect x="531.5" y="49.5" width="3.55" height="3.55" fill="#333333"/><rect x="535.0" y="49.5" width="3.55" height="3.55" fill="#444444"/><rect x="538.5" y="49.5" width="3.55" height="3.55" fill="#535353"/><rect x="542.0" y="49.5" width="3.55" height="3.55" fill="#616161"/><rect x="545.5" y="49.5" width="3.55" height="3.55" fill="#737373"/><rect x="549.0" y="49.5" width="3.55" height="3.55" fill="#898989"/><rect x="552.5" y="49.5" width="3.55" height="3.55" fill="#9f9f9f"/><rect x="556.0" y="49.5" width="3.55" height="3.55" fill="#b4b4b4"/><rect x="559.5" y="49.5" width="3.55" height="3.55" fill="#c6c6c6"/><rect x="563.0" y="49.5" width="3.55" height="3.55" fill="#d5d5d5"/><rect x="566.5" y="49.5" width="3.55" height="3.55" fill="#e4e4e4"/><rect x="570.0" y="49.5" width="3.55" height="3.55" fill="#f2f2f2"/><rect x="573.5" y="49.5" width="3.55" height="3.55" fill="#f3f3f3"/><rect x="486.0" y="53.0" width="3.55" height="3.55" fill="#e6e6e6"/><rect x="489.5" y="53.0" width="3.55" height="3.55" fill="#e2e2e2"/><rect x="493.0" y="53.0" width="3.55" height="3.55" fill="#d4d4d4"/><rect x="496.5" y="53.0" width="3.55" height="3.55" fill="#c3c3c3"/><rect x="500.0" y="53.0" width="3.55" height="3.55" fill="#b0b0b0"/><rect x="503.5" y="53.0" width="3.55" height="3.55" fill="#9b9b9b"/><rect x="507.0" y="53.0" width="3.55" height="3.55" fill="#858585"/><rect x="510.5" y="53.0" width="3.55" height="3.55" fill="#6d6d6d"/><rect x="514.0" y="53.0" width="3.55" height="3.55" fill="#565656"/><rect x="517.5" y="53.0" width="3.55" height="3.55" fill="#444444"/><rect x="521.0" y="53.0" width="3.55" height="3.55" fill="#393939"/><rect x="524.5" y="53.0" width="3.55" height="3.55" fill="#363636"/><rect x="528.0" y="53.0" width="3.55" height="3.55" fill="#373737"/><rect x="531.5" y="53.0" width="3.55" height="3.55" fill="#3e3e3e"/><rect x="535.0" y="53.0" width="3.55" height="3.55" fill="#4a4a4a"/><rect x="538.5" y="53.0" width="3.55" height="3.55" fill="#585858"/><rect x="542.0" y="53.0" width="3.55" height="3.55" fill="#666666"/><rect x="545.5" y="53.0" width="3.55" height="3.55" fill="#787878"/><rect x="549.0" y="53.0" width="3.55" height="3.55" fill="#8d8d8d"/><rect x="552.5" y="53.0" width="3.55" height="3.55" fill="#a1a1a1"/><rect x="556.0" y="53.0" width="3.55" height="3.55" fill="#b5b5b5"/><rect x="559.5" y="53.0" width="3.55" height="3.55" fill="#c6c6c6"/><rect x="563.0" y="53.0" width="3.55" height="3.55" fill="#d5d5d5"/><rect x="566.5" y="53.0" width="3.55" height="3.55" fill="#e4e4e4"/><rect x="570.0" y="53.0" width="3.55" height="3.55" fill="#f2f2f2"/><rect x="573.5" y="53.0" width="3.55" height="3.55" fill="#f3f3f3"/><rect x="486.0" y="56.5" width="3.55" height="3.55" fill="#e4e4e4"/><rect x="489.5" y="56.5" width="3.55" height="3.55" fill="#e1e1e1"/><rect x="493.0" y="56.5" width="3.55" height="3.55" fill="#d7d7d7"/><rect x="496.5" y="56.5" width="3.55" height="3.55" fill="#c8c8c8"/><rect x="500.0" y="56.5" width="3.55" height="3.55" fill="#b7b7b7"/><rect x="503.5" y="56.5" width="3.55" height="3.55" fill="#a4a4a4"/><rect x="507.0" y="56.5" width="3.55" height="3.55" fill="#8f8f8f"/><rect x="510.5" y="56.5" width="3.55" height="3.55" fill="#7b7b7b"/><rect x="514.0" y="56.5" width="3.55" height="3.55" fill="#676767"/><rect x="517.5" y="56.5" width="3.55" height="3.55" fill="#565656"/><rect x="521.0" y="56.5" width="3.55" height="3.55" fill="#4b4b4b"/><rect x="524.5" y="56.5" width="3.55" height="3.55" fill="#474747"/><rect x="528.0" y="56.5" width="3.55" height="3.55" fill="#464646"/><rect x="531.5" y="56.5" width="3.55" height="3.55" fill="#4a4a4a"/><rect x="535.0" y="56.5" width="3.55" height="3.55" fill="#525252"/><rect x="538.5" y="56.5" width="3.55" height="3.55" fill="#5d5d5d"/><rect x="542.0" y="56.5" width="3.55" height="3.55" fill="#6c6c6c"/><rect x="545.5" y="56.5" width="3.55" height="3.55" fill="#7e7e7e"/><rect x="549.0" y="56.5" width="3.55" height="3.55" fill="#919191"/><rect x="552.5" y="56.5" width="3.55" height="3.55" fill="#a4a4a4"/><rect x="556.0" y="56.5" width="3.55" height="3.55" fill="#b6b6b6"/><rect x="559.5" y="56.5" width="3.55" height="3.55" fill="#c6c6c6"/><rect x="563.0" y="56.5" width="3.55" height="3.55" fill="#d6d6d6"/><rect x="566.5" y="56.5" width="3.55" height="3.55" fill="#e4e4e4"/><rect x="570.0" y="56.5" width="3.55" height="3.55" fill="#f2f2f2"/><rect x="573.5" y="56.5" width="3.55" height="3.55" fill="#f3f3f3"/><rect x="486.0" y="60.0" width="3.55" height="3.55" fill="#e4e4e4"/><rect x="489.5" y="60.0" width="3.55" height="3.55" fill="#e1e1e1"/><rect x="493.0" y="60.0" width="3.55" height="3.55" fill="#dadada"/><rect x="496.5" y="60.0" width="3.55" height="3.55" fill="#cbcbcb"/><rect x="500.0" y="60.0" width="3.55" height="3.55" fill="#bdbdbd"/><rect x="503.5" y="60.0" width="3.55" height="3.55" fill="#acacac"/><rect x="507.0" y="60.0" width="3.55" height="3.55" fill="#999999"/><rect x="510.5" y="60.0" width="3.55" height="3.55" fill="#888888"/><rect x="514.0" y="60.0" width="3.55" height="3.55" fill="#767676"/><rect x="517.5" y="60.0" width="3.55" height="3.55" fill="#666666"/><rect x="521.0" y="60.0" width="3.55" height="3.55" fill="#5c5c5c"/><rect x="524.5" y="60.0" width="3.55" height="3.55" fill="#585858"/><rect x="528.0" y="60.0" width="3.55" height="3.55" fill="#555555"/><rect x="531.5" y="60.0" width="3.55" height="3.55" fill="#565656"/><rect x="535.0" y="60.0" width="3.55" height="3.55" fill="#5c5c5c"/><rect x="538.5" y="60.0" width="3.55" height="3.55" fill="#656565"/><rect x="542.0" y="60.0" width="3.55" height="3.55" fill="#727272"/><rect x="545.5" y="60.0" width="3.55" height="3.55" fill="#848484"/><rect x="549.0" y="60.0" width="3.55" height="3.55" fill="#969696"/><rect x="552.5" y="60.0" width="3.55" height="3.55" fill="#a7a7a7"/><rect x="556.0" y="60.0" width="3.55" height="3.55" fill="#b7b7b7"/><rect x="559.5" y="60.0" width="3.55" height="3.55" fill="#c7c7c7"/><rect x="563.0" y="60.0" width="3.55" height="3.55" fill="#d6d6d6"/><rect x="566.5" y="60.0" width="3.55" height="3.55" fill="#e4e4e4"/><rect x="570.0" y="60.0" width="3.55" height="3.55" fill="#f2f2f2"/><rect x="573.5" y="60.0" width="3.55" height="3.55" fill="#f3f3f3"/><rect x="486.0" y="63.5" width="3.55" height="3.55" fill="#e7e7e7"/><rect x="489.5" y="63.5" width="3.55" height="3.55" fill="#e4e4e4"/><rect x="493.0" y="63.5" width="3.55" height="3.55" fill="#dbdbdb"/><rect x="496.5" y="63.5" width="3.55" height="3.55" fill="#d0d0d0"/><rect x="500.0" y="63.5" width="3.55" height="3.55" fill="#c3c3c3"/><rect x="503.5" y="63.5" width="3.55" height="3.55" fill="#b4b4b4"/><rect x="507.0" y="63.5" width="3.55" height="3.55" fill="#a4a4a4"/><rect x="510.5" y="63.5" width="3.55" height="3.55" fill="#949494"/><rect x="514.0" y="63.5" width="3.55" height="3.55" fill="#848484"/><rect x="517.5" y="63.5" width="3.55" height="3.55" fill="#767676"/><rect x="521.0" y="63.5" width="3.55" height="3.55" fill="#6c6c6c"/><rect x="524.5" y="63.5" width="3.55" height="3.55" fill="#676767"/><rect x="528.0" y="63.5" width="7.05" height="3.55" fill="#636363"/><rect x="535.0" y="63.5" width="3.55" height="3.55" fill="#676767"/><rect x="538.5" y="63.5" width="3.55" height="3.55" fill="#707070"/><rect x="542.0" y="63.5" width="3.55" height="3.55" fill="#7c7c7c"/><rect x="545.5" y="63.5" width="3.55" height="3.55" fill="#8a8a8a"/><rect x="549.0" y="63.5" width="3.55" height="3.55" fill="#9a9a9a"/><rect x="552.5" y="63.5" width="3.55" height="3.55" fill="#aaaaaa"/><rect x="556.0" y="63.5" width="3.55" height="3.55" fill="#b9b9b9"/><rect x="559.5" y="63.5" width="3.55" height="3.55" fill="#c8c8c8"/><rect x="563.0" y="63.5" width="3.55" height="3.55" fill="#d6d6d6"/><rect x="566.5" y="63.5" width="3.55" height="3.55" fill="#e4e4e4"/><rect x="570.0" y="63.5" width="3.55" height="3.55" fill="#f1f1f1"/><rect x="573.5" y="63.5" width="3.55" height="3.55" fill="#f2f2f2"/><rect x="486.0" y="67.0" width="3.55" height="3.55" fill="#eaeaea"/><rect x="489.5" y="67.0" width="3.55" height="3.55" fill="#e6e6e6"/><rect x="493.0" y="67.0" width="3.55" height="3.55" fill="#dddddd"/><rect x="496.5" y="67.0" width="3.55" height="3.55" fill="#d5d5d5"/><rect x="500.0" y="67.0" width="3.55" height="3.55" fill="#c9c9c9"/><rect x="503.5" y="67.0" width="3.55" height="3.55" fill="#bbbbbb"/><rect x="507.0" y="67.0" width="3.55" height="3.55" fill="#aeaeae"/><rect x="510.5" y="67.0" width="3.55" height="3.55" fill="#9f9f9f"/><rect x="514.0" y="67.0" width="3.55" height="3.55" fill="#919191"/><rect x="517.5" y="67.0" width="3.55" height="3.55" fill="#858585"/><rect x="521.0" y="67.0" width="3.55" height="3.55" fill="#7c7c7c"/><rect x="524.5" y="67.0" width="3.55" height="3.55" fill="#767676"/><rect x="528.0" y="67.0" width="7.05" height="3.55" fill="#727272"/><rect x="535.0" y="67.0" width="3.55" height="3.55" fill="#767676"/><rect x="538.5" y="67.0" width="3.55" height="3.55" fill="#7d7d7d"/><rect x="542.0" y="67.0" width="3.55" height="3.55" fill="#878787"/><rect x="545.5" y="67.0" width="3.55" height="3.55" fill="#939393"/><rect x="549.0" y="67.0" width="3.55" height="3.55" fill="#a1a1a1"/><rect x="552.5" y="67.0" width="3.55" height="3.55" fill="#afafaf"/><rect x="556.0" y="67.0" width="3.55" height="3.55" fill="#bcbcbc"/><rect x="559.5" y="67.0" width="3.55" height="3.55" fill="#cacaca"/><rect x="563.0" y="67.0" width="3.55" height="3.55" fill="#d8d8d8"/><rect x="566.5" y="67.0" width="3.55" height="3.55" fill="#e5e5e5"/><rect x="570.0" y="67.0" width="3.55" height="3.55" fill="#f1f1f1"/><rect x="573.5" y="67.0" width="3.55" height="3.55" fill="#f2f2f2"/><rect x="486.0" y="70.5" width="3.55" height="3.55" fill="#ededed"/><rect x="489.5" y="70.5" width="3.55" height="3.55" fill="#e8e8e8"/><rect x="493.0" y="70.5" width="3.55" height="3.55" fill="#e0e0e0"/><rect x="496.5" y="70.5" width="3.55" height="3.55" fill="#dbdbdb"/><rect x="500.0" y="70.5" width="3.55" height="3.55" fill="#cfcfcf"/><rect x="503.5" y="70.5" width="3.55" height="3.55" fill="#c4c4c4"/><rect x="507.0" y="70.5" width="3.55" height="3.55" fill="#b9b9b9"/><rect x="510.5" y="70.5" width="3.55" height="3.55" fill="#adadad"/><rect x="514.0" y="70.5" width="3.55" height="3.55" fill="#a0a0a0"/><rect x="517.5" y="70.5" width="3.55" height="3.55" fill="#959595"/><rect x="521.0" y="70.5" width="3.55" height="3.55" fill="#8e8e8e"/><rect x="524.5" y="70.5" width="3.55" height="3.55" fill="#878787"/><rect x="528.0" y="70.5" width="3.55" height="3.55" fill="#848484"/><rect x="531.5" y="70.5" width="3.55" height="3.55" fill="#838383"/><rect x="535.0" y="70.5" width="3.55" height="3.55" fill="#878787"/><rect x="538.5" y="70.5" width="3.55" height="3.55" fill="#8e8e8e"/><rect x="542.0" y="70.5" width="3.55" height="3.55" fill="#979797"/><rect x="545.5" y="70.5" width="3.55" height="3.55" fill="#a1a1a1"/><rect x="549.0" y="70.5" width="3.55" height="3.55" fill="#acacac"/><rect x="552.5" y="70.5" width="3.55" height="3.55" fill="#b7b7b7"/><rect x="556.0" y="70.5" width="3.55" height="3.55" fill="#c2c2c2"/><rect x="559.5" y="70.5" width="3.55" height="3.55" fill="#cecece"/><rect x="563.0" y="70.5" width="3.55" height="3.55" fill="#dbdbdb"/><rect x="566.5" y="70.5" width="3.55" height="3.55" fill="#e7e7e7"/><rect x="570.0" y="70.5" width="3.55" height="3.55" fill="#f1f1f1"/><rect x="573.5" y="70.5" width="3.55" height="3.55" fill="#f2f2f2"/><rect x="486.0" y="74.0" width="3.55" height="3.55" fill="#efefef"/><rect x="489.5" y="74.0" width="3.55" height="3.55" fill="#ebebeb"/><rect x="493.0" y="74.0" width="3.55" height="3.55" fill="#e4e4e4"/><rect x="496.5" y="74.0" width="3.55" height="3.55" fill="#dfdfdf"/><rect x="500.0" y="74.0" width="3.55" height="3.55" fill="#d6d6d6"/><rect x="503.5" y="74.0" width="3.55" height="3.55" fill="#cecece"/><rect x="507.0" y="74.0" width="3.55" height="3.55" fill="#c7c7c7"/><rect x="510.5" y="74.0" width="3.55" height="3.55" fill="#bdbdbd"/><rect x="514.0" y="74.0" width="3.55" height="3.55" fill="#b1b1b1"/><rect x="517.5" y="74.0" width="3.55" height="3.55" fill="#a8a8a8"/><rect x="521.0" y="74.0" width="3.55" height="3.55" fill="#a1a1a1"/><rect x="524.5" y="74.0" width="3.55" height="3.55" fill="#9c9c9c"/><rect x="528.0" y="74.0" width="7.05" height="3.55" fill="#999999"/><rect x="535.0" y="74.0" width="3.55" height="3.55" fill="#9c9c9c"/><rect x="538.5" y="74.0" width="3.55" height="3.55" fill="#a2a2a2"/><rect x="542.0" y="74.0" width="3.55" height="3.55" fill="#aaaaaa"/><rect x="545.5" y="74.0" width="3.55" height="3.55" fill="#b3b3b3"/><rect x="549.0" y="74.0" width="3.55" height="3.55" fill="#bdbdbd"/><rect x="552.5" y="74.0" width="3.55" height="3.55" fill="#c5c5c5"/><rect x="556.0" y="74.0" width="3.55" height="3.55" fill="#cdcdcd"/><rect x="559.5" y="74.0" width="3.55" height="3.55" fill="#d6d6d6"/><rect x="563.0" y="74.0" width="3.55" height="3.55" fill="#e1e1e1"/><rect x="566.5" y="74.0" width="3.55" height="3.55" fill="#eaeaea"/><rect x="570.0" y="74.0" width="3.55" height="3.55" fill="#f3f3f3"/><rect x="573.5" y="74.0" width="3.55" height="3.55" fill="#f4f4f4"/><rect x="486.0" y="77.5" width="3.55" height="3.55" fill="#f1f1f1"/><rect x="489.5" y="77.5" width="3.55" height="3.55" fill="#eeeeee"/><rect x="493.0" y="77.5" width="3.55" height="3.55" fill="#e8e8e8"/><rect x="496.5" y="77.5" width="3.55" height="3.55" fill="#e1e1e1"/><rect x="500.0" y="77.5" width="3.55" height="3.55" fill="#dbdbdb"/><rect x="503.5" y="77.5" width="3.55" height="3.55" fill="#d8d8d8"/><rect x="507.0" y="77.5" width="3.55" height="3.55" fill="#d5d5d5"/><rect x="510.5" y="77.5" width="3.55" height="3.55" fill="#cdcdcd"/><rect x="514.0" y="77.5" width="3.55" height="3.55" fill="#c3c3c3"/><rect x="517.5" y="77.5" width="3.55" height="3.55" fill="#bbbbbb"/><rect x="521.0" y="77.5" width="3.55" height="3.55" fill="#b5b5b5"/><rect x="524.5" y="77.5" width="3.55" height="3.55" fill="#b2b2b2"/><rect x="528.0" y="77.5" width="7.05" height="3.55" fill="#b0b0b0"/><rect x="535.0" y="77.5" width="3.55" height="3.55" fill="#b2b2b2"/><rect x="538.5" y="77.5" width="3.55" height="3.55" fill="#b8b8b8"/><rect x="542.0" y="77.5" width="3.55" height="3.55" fill="#c0c0c0"/><rect x="545.5" y="77.5" width="3.55" height="3.55" fill="#c8c8c8"/><rect x="549.0" y="77.5" width="3.55" height="3.55" fill="#cfcfcf"/><rect x="552.5" y="77.5" width="3.55" height="3.55" fill="#d4d4d4"/><rect x="556.0" y="77.5" width="3.55" height="3.55" fill="#d9d9d9"/><rect x="559.5" y="77.5" width="3.55" height="3.55" fill="#e0e0e0"/><rect x="563.0" y="77.5" width="3.55" height="3.55" fill="#e8e8e8"/><rect x="566.5" y="77.5" width="3.55" height="3.55" fill="#efefef"/><rect x="570.0" y="77.5" width="7.05" height="3.55" fill="#f5f5f5"/><rect x="486.0" y="81.0" width="3.55" height="3.55" fill="#f1f1f1"/><rect x="489.5" y="81.0" width="3.55" height="3.55" fill="#efefef"/><rect x="493.0" y="81.0" width="3.55" height="3.55" fill="#eaeaea"/><rect x="496.5" y="81.0" width="3.55" height="3.55" fill="#e4e4e4"/><rect x="500.0" y="81.0" width="10.55" height="3.55" fill="#dfdfdf"/><rect x="510.5" y="81.0" width="3.55" height="3.55" fill="#dadada"/><rect x="514.0" y="81.0" width="3.55" height="3.55" fill="#d2d2d2"/><rect x="517.5" y="81.0" width="3.55" height="3.55" fill="#cccccc"/><rect x="521.0" y="81.0" width="3.55" height="3.55" fill="#c7c7c7"/><rect x="524.5" y="81.0" width="14.05" height="3.55" fill="#c6c6c6"/><rect x="538.5" y="81.0" width="3.55" height="3.55" fill="#cccccc"/><rect x="542.0" y="81.0" width="3.55" height="3.55" fill="#d2d2d2"/><rect x="545.5" y="81.0" width="3.55" height="3.55" fill="#d7d7d7"/><rect x="549.0" y="81.0" width="3.55" height="3.55" fill="#dddddd"/><rect x="552.5" y="81.0" width="3.55" height="3.55" fill="#dfdfdf"/><rect x="556.0" y="81.0" width="3.55" height="3.55" fill="#e3e3e3"/><rect x="559.5" y="81.0" width="3.55" height="3.55" fill="#e8e8e8"/><rect x="563.0" y="81.0" width="3.55" height="3.55" fill="#ededed"/><rect x="566.5" y="81.0" width="3.55" height="3.55" fill="#f2f2f2"/><rect x="570.0" y="81.0" width="7.05" height="3.55" fill="#f6f6f6"/><rect x="486.0" y="84.5" width="3.55" height="3.55" fill="#efefef"/><rect x="489.5" y="84.5" width="3.55" height="3.55" fill="#ededed"/><rect x="493.0" y="84.5" width="3.55" height="3.55" fill="#eaeaea"/><rect x="496.5" y="84.5" width="3.55" height="3.55" fill="#e6e6e6"/><rect x="500.0" y="84.5" width="7.05" height="3.55" fill="#e4e4e4"/><rect x="507.0" y="84.5" width="3.55" height="3.55" fill="#e3e3e3"/><rect x="510.5" y="84.5" width="3.55" height="3.55" fill="#e1e1e1"/><rect x="514.0" y="84.5" width="3.55" height="3.55" fill="#dddddd"/><rect x="517.5" y="84.5" width="3.55" height="3.55" fill="#d9d9d9"/><rect x="521.0" y="84.5" width="7.05" height="3.55" fill="#d7d7d7"/><rect x="528.0" y="84.5" width="10.55" height="3.55" fill="#d8d8d8"/><rect x="538.5" y="84.5" width="3.55" height="3.55" fill="#dbdbdb"/><rect x="542.0" y="84.5" width="3.55" height="3.55" fill="#dedede"/><rect x="545.5" y="84.5" width="3.55" height="3.55" fill="#dfdfdf"/><rect x="549.0" y="84.5" width="3.55" height="3.55" fill="#e1e1e1"/><rect x="552.5" y="84.5" width="3.55" height="3.55" fill="#e5e5e5"/><rect x="556.0" y="84.5" width="3.55" height="3.55" fill="#e9e9e9"/><rect x="559.5" y="84.5" width="3.55" height="3.55" fill="#ededed"/><rect x="563.0" y="84.5" width="3.55" height="3.55" fill="#f1f1f1"/><rect x="566.5" y="84.5" width="3.55" height="3.55" fill="#f3f3f3"/><rect x="570.0" y="84.5" width="7.05" height="3.55" fill="#f6f6f6"/><rect x="486.0" y="88.0" width="3.55" height="3.55" fill="#efefef"/><rect x="489.5" y="88.0" width="3.55" height="3.55" fill="#ededed"/><rect x="493.0" y="88.0" width="3.55" height="3.55" fill="#eaeaea"/><rect x="496.5" y="88.0" width="3.55" height="3.55" fill="#e8e8e8"/><rect x="500.0" y="88.0" width="7.05" height="3.55" fill="#e6e6e6"/><rect x="507.0" y="88.0" width="3.55" height="3.55" fill="#e5e5e5"/><rect x="510.5" y="88.0" width="3.55" height="3.55" fill="#e4e4e4"/><rect x="514.0" y="88.0" width="3.55" height="3.55" fill="#e1e1e1"/><rect x="517.5" y="88.0" width="3.55" height="3.55" fill="#dfdfdf"/><rect x="521.0" y="88.0" width="7.05" height="3.55" fill="#dedede"/><rect x="528.0" y="88.0" width="7.05" height="3.55" fill="#dfdfdf"/><rect x="535.0" y="88.0" width="3.55" height="3.55" fill="#e0e0e0"/><rect x="538.5" y="88.0" width="3.55" height="3.55" fill="#e1e1e1"/><rect x="542.0" y="88.0" width="7.05" height="3.55" fill="#e2e2e2"/><rect x="549.0" y="88.0" width="3.55" height="3.55" fill="#e3e3e3"/><rect x="552.5" y="88.0" width="3.55" height="3.55" fill="#e8e8e8"/><rect x="556.0" y="88.0" width="3.55" height="3.55" fill="#ececec"/><rect x="559.5" y="88.0" width="3.55" height="3.55" fill="#efefef"/><rect x="563.0" y="88.0" width="3.55" height="3.55" fill="#f2f2f2"/><rect x="566.5" y="88.0" width="3.55" height="3.55" fill="#f4f4f4"/><rect x="570.0" y="88.0" width="3.55" height="3.55" fill="#f6f6f6"/><rect x="573.5" y="88.0" width="3.55" height="3.55" fill="#f7f7f7"/><rect x="486.0" y="91.5" width="3.55" height="3.55" fill="#efefef"/><rect x="489.5" y="91.5" width="3.55" height="3.55" fill="#ededed"/><rect x="493.0" y="91.5" width="3.55" height="3.55" fill="#eaeaea"/><rect x="496.5" y="91.5" width="3.55" height="3.55" fill="#e8e8e8"/><rect x="500.0" y="91.5" width="7.05" height="3.55" fill="#e6e6e6"/><rect x="507.0" y="91.5" width="3.55" height="3.55" fill="#e5e5e5"/><rect x="510.5" y="91.5" width="3.55" height="3.55" fill="#e4e4e4"/><rect x="514.0" y="91.5" width="3.55" height="3.55" fill="#e1e1e1"/><rect x="517.5" y="91.5" width="3.55" height="3.55" fill="#dfdfdf"/><rect x="521.0" y="91.5" width="7.05" height="3.55" fill="#dedede"/><rect x="528.0" y="91.5" width="7.05" height="3.55" fill="#dfdfdf"/><rect x="535.0" y="91.5" width="3.55" height="3.55" fill="#e0e0e0"/><rect x="538.5" y="91.5" width="3.55" height="3.55" fill="#e1e1e1"/><rect x="542.0" y="91.5" width="7.05" height="3.55" fill="#e2e2e2"/><rect x="549.0" y="91.5" width="3.55" height="3.55" fill="#e3e3e3"/><rect x="552.5" y="91.5" width="3.55" height="3.55" fill="#e8e8e8"/><rect x="556.0" y="91.5" width="3.55" height="3.55" fill="#ececec"/><rect x="559.5" y="91.5" width="3.55" height="3.55" fill="#efefef"/><rect x="563.0" y="91.5" width="3.55" height="3.55" fill="#f2f2f2"/><rect x="566.5" y="91.5" width="3.55" height="3.55" fill="#f4f4f4"/><rect x="570.0" y="91.5" width="3.55" height="3.55" fill="#f6f6f6"/><rect x="573.5" y="91.5" width="3.55" height="3.55" fill="#f7f7f7"/></g></g><rect x="492.15" y="9.85" width="78.80" height="76.65" fill="none" stroke="#000" stroke-opacity="0.28" stroke-width="0.5"/><g clip-path="url(#ca120)"><g filter="url(#fa120)"><rect x="34.9" y="117.85" width="102.00" height="100.90" fill="#040404"/><rect x="0" y="0" width="617" height="248" fill="url(#rg15)"/></g></g><rect x="47.15" y="130.10" width="77.50" height="76.40" fill="none" stroke="#000" stroke-opacity="0.28" stroke-width="0.5"/><g clip-path="url(#cb120)"><g filter="url(#fb120)"><rect x="184.5" y="117.85" width="101.80" height="100.90" fill="#040404"/><rect x="0" y="0" width="617" height="248" fill="url(#rg18)"/></g></g><rect x="196.75" y="130.10" width="77.30" height="76.40" fill="none" stroke="#000" stroke-opacity="0.28" stroke-width="0.5"/><g clip-path="url(#cc120)"><g filter="url(#fc120)"><rect x="334.6" y="117.85" width="102.00" height="100.90" fill="#040404"/><rect x="0" y="0" width="617" height="248" fill="url(#rg21)"/></g></g><rect x="346.85" y="130.10" width="77.50" height="76.40" fill="none" stroke="#000" stroke-opacity="0.28" stroke-width="0.5"/><g clip-path="url(#cd120)"><g filter="url(#fd120)"><rect x="479.9" y="117.6" width="103.30" height="101.15" fill="#040404"/><rect x="0" y="0" width="617" height="248" fill="url(#rg24)"/></g></g><rect x="492.15" y="129.85" width="78.80" height="76.65" fill="none" stroke="#000" stroke-opacity="0.28" stroke-width="0.5"/><rect x="133.1" y="9.1" width="12.30" height="78.90" fill="url(#jetgrad)" stroke="#9a9a9a" stroke-width="0.5"/><rect x="133.1" y="129.1" width="12.30" height="78.90" fill="url(#jetgrad)" stroke="#9a9a9a" stroke-width="0.5"/><rect x="283.0" y="9.1" width="11.60" height="78.90" fill="url(#jetgrad)" stroke="#9a9a9a" stroke-width="0.5"/><rect x="283.0" y="129.1" width="11.60" height="78.90" fill="url(#jetgrad)" stroke="#9a9a9a" stroke-width="0.5"/><rect x="433.0" y="9.1" width="11.70" height="78.90" fill="url(#jetgrad)" stroke="#9a9a9a" stroke-width="0.5"/><rect x="433.0" y="129.1" width="11.70" height="78.90" fill="url(#jetgrad)" stroke="#9a9a9a" stroke-width="0.5"/><rect x="580.0" y="9.1" width="11.70" height="78.90" fill="url(#jetgrad)" stroke="#9a9a9a" stroke-width="0.5"/><rect x="580.0" y="129.1" width="11.70" height="78.90" fill="url(#jetgrad)" stroke="#9a9a9a" stroke-width="0.5"/><rect x="144.10" y="18.60" width="1.2" height="0.8" fill="#222" opacity="0.8"/><rect x="144.10" y="33.00" width="1.2" height="0.8" fill="#222" opacity="0.8"/><rect x="144.10" y="47.40" width="1.2" height="0.8" fill="#222" opacity="0.8"/><rect x="144.10" y="61.80" width="1.2" height="0.8" fill="#222" opacity="0.8"/><rect x="144.10" y="76.20" width="1.2" height="0.8" fill="#222" opacity="0.8"/><rect x="293.30" y="23.60" width="1.2" height="0.8" fill="#222" opacity="0.8"/><rect x="293.30" y="49.50" width="1.2" height="0.8" fill="#222" opacity="0.8"/><rect x="293.30" y="75.40" width="1.2" height="0.8" fill="#222" opacity="0.8"/><rect x="443.40" y="15.35" width="1.2" height="0.8" fill="#222" opacity="0.8"/><rect x="443.40" y="48.50" width="1.2" height="0.8" fill="#222" opacity="0.8"/><rect x="443.40" y="81.60" width="1.2" height="0.8" fill="#222" opacity="0.8"/><rect x="590.40" y="13.35" width="1.2" height="0.8" fill="#222" opacity="0.8"/><rect x="590.40" y="29.60" width="1.2" height="0.8" fill="#222" opacity="0.8"/><rect x="590.40" y="45.90" width="1.2" height="0.8" fill="#222" opacity="0.8"/><rect x="590.40" y="62.20" width="1.2" height="0.8" fill="#222" opacity="0.8"/><rect x="590.40" y="78.50" width="1.2" height="0.8" fill="#222" opacity="0.8"/><rect x="144.10" y="129.70" width="1.2" height="0.8" fill="#222" opacity="0.8"/><rect x="144.10" y="149.10" width="1.2" height="0.8" fill="#222" opacity="0.8"/><rect x="144.10" y="168.50" width="1.2" height="0.8" fill="#222" opacity="0.8"/><rect x="144.10" y="187.90" width="1.2" height="0.8" fill="#222" opacity="0.8"/><rect x="144.10" y="207.30" width="1.2" height="0.8" fill="#222" opacity="0.8"/><rect x="293.30" y="140.50" width="1.2" height="0.8" fill="#222" opacity="0.8"/><rect x="293.30" y="162.20" width="1.2" height="0.8" fill="#222" opacity="0.8"/><rect x="293.30" y="183.90" width="1.2" height="0.8" fill="#222" opacity="0.8"/><rect x="293.30" y="205.60" width="1.2" height="0.8" fill="#222" opacity="0.8"/><rect x="443.40" y="133.60" width="1.2" height="0.8" fill="#222" opacity="0.8"/><rect x="443.40" y="158.10" width="1.2" height="0.8" fill="#222" opacity="0.8"/><rect x="443.40" y="182.70" width="1.2" height="0.8" fill="#222" opacity="0.8"/><rect x="443.40" y="206.50" width="1.2" height="0.8" fill="#222" opacity="0.8"/><rect x="590.40" y="136.85" width="1.2" height="0.8" fill="#222" opacity="0.8"/><rect x="590.40" y="154.50" width="1.2" height="0.8" fill="#222" opacity="0.8"/><rect x="590.40" y="172.20" width="1.2" height="0.8" fill="#222" opacity="0.8"/><rect x="590.40" y="189.85" width="1.2" height="0.8" fill="#222" opacity="0.8"/><rect x="590.40" y="207.50" width="1.2" height="0.8" fill="#222" opacity="0.8"/>
<g stroke="#000" stroke-width="0.3" stroke-linejoin="round"><text x="-0.57" y="8.23" font-size="11.4" fill="#000">(a)</text><text x="162.43" y="8.38" font-size="11.4" fill="#000">(b)</text><text x="312.73" y="8.38" font-size="11.4" fill="#000">(c)</text><text x="461.63" y="8.23" font-size="11.4" fill="#000">(d)</text><text x="-0.57" y="126.23" font-size="11.4" fill="#000">(e)</text><text x="162.63" y="126.53" font-size="11.4" fill="#000">(f)</text><text x="313.03" y="126.48" font-size="11.4" fill="#000">(g)</text><text x="461.93" y="126.33" font-size="11.4" fill="#000">(h)</text><text x="28.21" y="25.05" font-size="9.0" fill="#000">500</text><text x="38.22" y="50.55" font-size="9.0" fill="#000">0</text><text x="22.95" y="75.65" font-size="9.0" fill="#000">−500</text><text x="47.36" y="99.40" font-size="9.0" fill="#000">−500</text><text x="82.50" y="99.40" font-size="9.0" fill="#000">0</text><text x="104.04" y="99.40" font-size="9.0" fill="#000">500</text><text x="72.02" y="110.33" font-size="9.0" fill="#000">x [nm]</text><text x="0" y="0" font-size="9.0" transform="translate(19.93 61.48) rotate(-90)">y [nm]</text><text x="146.03" y="22.10" font-size="9.0" fill="#000">100</text><text x="146.28" y="36.50" font-size="9.0" fill="#000">90</text><text x="146.31" y="50.90" font-size="9.0" fill="#000">80</text><text x="146.21" y="65.30" font-size="9.0" fill="#000">70</text><text x="146.27" y="79.70" font-size="9.0" fill="#000">60</text><text x="177.91" y="24.65" font-size="9.0" fill="#000">200</text><text x="187.91" y="50.65" font-size="9.0" fill="#000">0</text><text x="172.65" y="77.35" font-size="9.0" fill="#000">−200</text><text x="204.26" y="99.20" font-size="9.0" fill="#000">−200</text><text x="232.00" y="99.20" font-size="9.0" fill="#000">0</text><text x="247.62" y="99.20" font-size="9.0" fill="#000">200</text><text x="220.32" y="110.03" font-size="9.0" fill="#000">x [nm]</text><text x="0" y="0" font-size="9.0" transform="translate(169.93 61.28) rotate(-90)">y [nm]</text><text x="296.63" y="27.10" font-size="9.0" fill="#000">100</text><text x="296.88" y="53.00" font-size="9.0" fill="#000">90</text><text x="296.91" y="78.90" font-size="9.0" fill="#000">80</text><text x="327.61" y="29.35" font-size="9.0" fill="#000">100</text><text x="337.62" y="50.45" font-size="9.0" fill="#000">0</text><text x="322.35" y="77.25" font-size="9.0" fill="#000">−100</text><text x="354.66" y="99.40" font-size="9.0" fill="#000">−100</text><text x="382.50" y="99.40" font-size="9.0" fill="#000">0</text><text x="398.00" y="99.40" font-size="9.0" fill="#000">100</text><text x="370.62" y="110.33" font-size="9.0" fill="#000">x [nm]</text><text x="0" y="0" font-size="9.0" transform="translate(319.53 61.08) rotate(-90)">y [nm]</text><text x="446.43" y="18.85" font-size="9.0" fill="#000">105</text><text x="446.43" y="52.00" font-size="9.0" fill="#000">100</text><text x="446.69" y="85.10" font-size="9.0" fill="#000">95</text><text x="478.31" y="26.85" font-size="9.0" fill="#000">50</text><text x="483.31" y="51.25" font-size="9.0" fill="#000">0</text><text x="473.06" y="76.95" font-size="9.0" fill="#000">−50</text><text x="497.26" y="100.70" font-size="9.0" fill="#000">−50</text><text x="527.90" y="100.70" font-size="9.0" fill="#000">0</text><text x="548.94" y="100.70" font-size="9.0" fill="#000">50</text><text x="518.22" y="108.83" font-size="9.0" fill="#000">x [nm]</text><text x="0" y="0" font-size="9.0" transform="translate(472.33 61.38) rotate(-90)">y [nm]</text><text x="594.73" y="16.85" font-size="9.0" fill="#000">106</text><text x="594.73" y="33.10" font-size="9.0" fill="#000">105.8</text><text x="594.73" y="49.40" font-size="9.0" fill="#000">105.6</text><text x="594.73" y="65.70" font-size="9.0" fill="#000">105.4</text><text x="594.73" y="82.00" font-size="9.0" fill="#000">105.2</text><text x="28.31" y="145.65" font-size="9.0" fill="#000">500</text><text x="38.32" y="171.65" font-size="9.0" fill="#000">0</text><text x="23.05" y="196.55" font-size="9.0" fill="#000">−500</text><text x="46.86" y="218.30" font-size="9.0" fill="#000">−500</text><text x="82.00" y="218.30" font-size="9.0" fill="#000">0</text><text x="103.24" y="218.30" font-size="9.0" fill="#000">500</text><text x="72.22" y="232.72" font-size="9.0" fill="#000">x [nm]</text><text x="0" y="0" font-size="9.0" transform="translate(20.53 181.28) rotate(-90)">y [nm]</text><text x="148.27" y="133.20" font-size="9.0" fill="#000">40</text><text x="148.19" y="152.59" font-size="9.0" fill="#000">30</text><text x="148.09" y="172.00" font-size="9.0" fill="#000">20</text><text x="147.83" y="191.40" font-size="9.0" fill="#000">10</text><text x="148.04" y="210.80" font-size="9.0" fill="#000">0</text><text x="177.71" y="145.75" font-size="9.0" fill="#000">200</text><text x="187.72" y="170.15" font-size="9.0" fill="#000">0</text><text x="172.45" y="195.95" font-size="9.0" fill="#000">−200</text><text x="204.26" y="218.50" font-size="9.0" fill="#000">−200</text><text x="232.10" y="218.50" font-size="9.0" fill="#000">0</text><text x="247.42" y="218.50" font-size="9.0" fill="#000">200</text><text x="221.62" y="232.33" font-size="9.0" fill="#000">x [nm]</text><text x="0" y="0" font-size="9.0" transform="translate(170.33 181.38) rotate(-90)">y [nm]</text><text x="296.73" y="143.95" font-size="9.0" fill="#000">15</text><text x="296.73" y="165.70" font-size="9.0" fill="#000">10</text><text x="297.02" y="187.35" font-size="9.0" fill="#000">5</text><text x="296.94" y="209.10" font-size="9.0" fill="#000">0</text><text x="327.41" y="145.65" font-size="9.0" fill="#000">100</text><text x="337.42" y="169.85" font-size="9.0" fill="#000">0</text><text x="322.15" y="196.95" font-size="9.0" fill="#000">−100</text><text x="353.86" y="218.30" font-size="9.0" fill="#000">−100</text><text x="381.60" y="218.30" font-size="9.0" fill="#000">0</text><text x="396.89" y="218.30" font-size="9.0" fill="#000">100</text><text x="376.52" y="231.62" font-size="9.0" fill="#000">x [nm]</text><text x="0" y="0" font-size="9.0" transform="translate(320.73 181.18) rotate(-90)">y [nm]</text><text x="446.97" y="137.10" font-size="9.0" fill="#000">6</text><text x="447.17" y="161.60" font-size="9.0" fill="#000">4</text><text x="446.99" y="186.24" font-size="9.0" fill="#000">2</text><text x="446.94" y="210.00" font-size="9.0" fill="#000">0</text><text x="478.61" y="145.05" font-size="9.0" fill="#000">50</text><text x="483.62" y="170.85" font-size="9.0" fill="#000">0</text><text x="473.36" y="196.55" font-size="9.0" fill="#000">−50</text><text x="497.26" y="220.30" font-size="9.0" fill="#000">−50</text><text x="527.90" y="220.30" font-size="9.0" fill="#000">0</text><text x="548.94" y="220.30" font-size="9.0" fill="#000">50</text><text x="521.82" y="231.03" font-size="9.0" fill="#000">x [nm]</text><text x="0" y="0" font-size="9.0" transform="translate(471.03 181.38) rotate(-90)">y [nm]</text><text x="594.14" y="140.35" font-size="9.0" fill="#000">0.4</text><text x="594.14" y="157.99" font-size="9.0" fill="#000">0.3</text><text x="594.14" y="175.70" font-size="9.0" fill="#000">0.2</text><text x="594.14" y="193.35" font-size="9.0" fill="#000">0.1</text><text x="594.14" y="211.00" font-size="9.0" fill="#000">0</text><text x="34.35" y="248.00" font-size="11.5" fill="#0000ff" stroke="#0000ff">Defect size=90 nm</text><text x="188.95" y="248.00" font-size="11.5" fill="#0000ff" stroke="#0000ff">Defect size=45 nm</text><text x="338.95" y="248.00" font-size="11.5" fill="#0000ff" stroke="#0000ff">Defect size=22 nm</text><text x="489.75" y="248.00" font-size="11.5" fill="#0000ff" stroke="#0000ff">Defect size=10 nm</text></g>
</svg>
</body></html>
